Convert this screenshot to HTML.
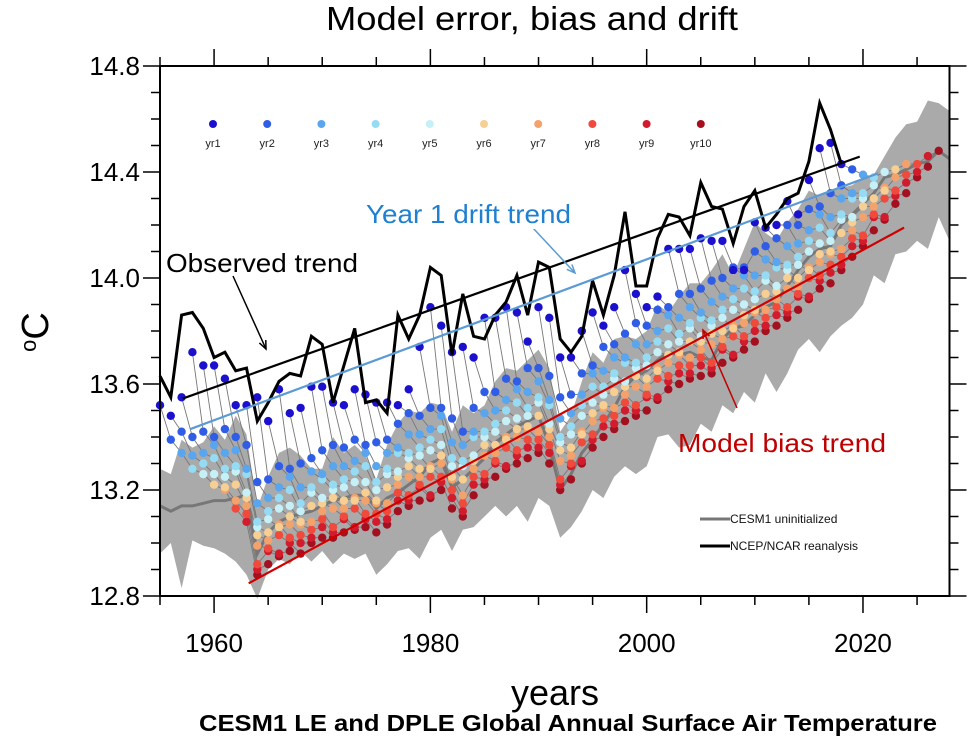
<!DOCTYPE html>
<html><head><meta charset="utf-8"><style>
html,body{margin:0;padding:0;background:#fff;}
svg{display:block;font-family:"Liberation Sans",sans-serif;}
</style></head><body>
<svg id="chart" width="971" height="746" viewBox="0 0 971 746" xmlns="http://www.w3.org/2000/svg">
<text x="532" y="30" font-size="33" text-anchor="middle" textLength="412" lengthAdjust="spacingAndGlyphs" fill="#000">Model error, bias and drift</text>
<g id="plot"></g>
<text x="555" y="705" font-size="36" text-anchor="middle" fill="#000">years</text>
<text transform="translate(48,332) rotate(-90)" font-size="38" text-anchor="middle" fill="#000"><tspan font-size="22" dy="-12">o</tspan><tspan dy="12">C</tspan></text>
<text x="568" y="731" font-size="23" font-weight="bold" text-anchor="middle" textLength="738" lengthAdjust="spacingAndGlyphs" fill="#000">CESM1 LE and DPLE Global Annual Surface Air Temperature</text>
</svg>
<script>
// ---- data ----
const obsStart = 1955;
const observed = [13.63,13.55,13.86,13.87,13.81,13.70,13.72,13.65,13.66,13.46,13.53,13.61,13.64,13.63,13.78,13.75,13.53,13.67,13.81,13.53,13.54,13.49,13.86,13.77,13.86,14.04,14.01,13.71,13.94,13.78,13.77,13.86,13.91,14.01,13.86,14.06,14.04,13.77,13.72,13.78,13.99,13.86,14.01,14.25,13.97,13.97,14.15,14.24,14.23,14.16,14.36,14.27,14.26,14.13,14.27,14.33,14.19,14.24,14.30,14.32,14.44,14.66,14.56,14.43];
const modelStart = 1955;
const cesm = [13.14,13.12,13.14,13.14,13.15,13.16,13.16,13.17,13.18,12.96,13.04,13.08,13.10,13.11,13.12,13.14,13.16,13.17,13.18,13.18,13.13,13.17,13.19,13.22,13.25,13.30,13.32,13.21,13.24,13.28,13.32,13.38,13.41,13.44,13.46,13.48,13.37,13.20,13.26,13.34,13.39,13.45,13.51,13.59,13.63,13.65,13.69,13.72,13.71,13.72,13.70,13.69,13.77,13.81,13.82,13.86,13.89,13.91,13.97,14.03,14.08,14.11,14.12,14.20,14.24,14.28,14.32,14.38,14.39,14.41,14.43,14.44,14.48,14.45];
const bandUpper = [13.28,13.26,13.39,13.36,13.38,13.44,13.39,13.48,13.41,13.13,13.25,13.34,13.36,13.33,13.28,13.28,13.40,13.34,13.37,13.33,13.24,13.37,13.45,13.50,13.49,13.53,13.52,13.42,13.52,13.49,13.52,13.61,13.66,13.65,13.69,13.73,13.66,13.42,13.48,13.61,13.72,13.68,13.77,13.78,13.77,13.80,13.90,13.87,13.93,13.98,13.98,14.03,14.09,14.01,14.11,14.21,14.17,14.14,14.21,14.26,14.33,14.31,14.33,14.34,14.35,14.38,14.39,14.46,14.53,14.58,14.59,14.67,14.66,14.63];
const bandLower = [12.96,13.00,12.83,13.01,12.99,12.98,12.96,12.93,12.88,12.79,12.90,12.94,12.92,12.97,12.93,12.97,12.92,12.96,12.94,12.96,12.88,12.92,12.97,12.98,12.94,13.02,13.05,12.97,13.05,13.06,13.10,13.14,13.10,13.14,13.08,13.17,13.14,13.02,13.06,13.12,13.20,13.17,13.25,13.29,13.26,13.29,13.40,13.41,13.36,13.37,13.45,13.42,13.52,13.49,13.57,13.53,13.64,13.57,13.64,13.73,13.77,13.72,13.78,13.82,13.85,13.90,14.01,13.98,14.09,14.10,14.14,14.11,14.23,14.14];
// hindcasts: index = start number (yr1 target year = 1955 + index); lead k target = 1955 + index + k - 1
const hindStart = 1955;
const yr1 = [13.52,13.48,13.55,13.72,13.67,13.67,13.62,13.52,13.52,13.55,13.46,13.58,13.49,13.51,13.59,13.59,13.53,13.52,13.58,13.56,13.53,13.53,13.52,13.58,13.74,13.89,13.82,13.72,13.74,13.70,13.85,13.85,13.89,13.87,13.76,13.89,13.85,13.70,13.70,13.80,13.87,13.82,13.89,14.03,13.94,13.89,13.93,14.11,14.11,14.11,14.15,14.14,14.14,14.03,14.03,14.21,14.19,14.20,14.29,14.24,14.37,14.49,14.51,14.43];
const yr2 = [13.39,13.42,13.40,13.42,13.40,13.43,13.40,13.37,13.23,13.24,13.29,13.28,13.30,13.32,13.35,13.37,13.36,13.39,13.37,13.38,13.39,13.45,13.49,13.48,13.51,13.51,13.47,13.42,13.51,13.57,13.57,13.62,13.61,13.66,13.66,13.63,13.55,13.56,13.64,13.67,13.74,13.75,13.79,13.83,13.82,13.88,13.89,13.94,13.94,13.96,13.99,14.00,14.04,14.04,14.10,14.12,14.15,14.20,14.20,14.26,14.27,14.32,14.35,14.41];
const yr3 = [13.34,13.33,13.34,13.37,13.34,13.35,13.28,13.15,13.17,13.21,13.25,13.21,13.27,13.26,13.29,13.29,13.31,13.34,13.29,13.34,13.36,13.41,13.41,13.43,13.48,13.38,13.37,13.42,13.49,13.50,13.54,13.58,13.57,13.61,13.54,13.47,13.49,13.56,13.64,13.65,13.70,13.70,13.75,13.75,13.80,13.86,13.85,13.89,13.87,13.91,13.93,13.96,14.01,14.01,14.07,14.06,14.12,14.13,14.18,14.24,14.23,14.30,14.32,14.39];
const yr4 = [13.28,13.30,13.32,13.28,13.29,13.26,13.08,13.12,13.17,13.20,13.15,13.21,13.24,13.22,13.24,13.27,13.29,13.23,13.28,13.34,13.34,13.36,13.39,13.43,13.32,13.31,13.40,13.42,13.45,13.50,13.53,13.51,13.55,13.52,13.40,13.44,13.52,13.59,13.59,13.64,13.68,13.68,13.70,13.76,13.81,13.79,13.83,13.85,13.84,13.88,13.92,13.96,13.95,14.01,14.04,14.05,14.08,14.14,14.19,14.17,14.24,14.30,14.32,14.38];
const yr5 = [13.26,13.26,13.25,13.27,13.19,13.06,13.09,13.13,13.14,13.12,13.19,13.17,13.20,13.21,13.23,13.23,13.20,13.26,13.27,13.32,13.33,13.35,13.37,13.29,13.29,13.33,13.40,13.42,13.46,13.47,13.48,13.53,13.45,13.38,13.41,13.48,13.53,13.56,13.62,13.61,13.66,13.67,13.72,13.75,13.76,13.81,13.78,13.82,13.85,13.88,13.90,13.92,13.99,13.97,14.03,14.05,14.10,14.13,14.14,14.22,14.23,14.30,14.35,14.40];
const yr6 = [13.22,13.21,13.22,13.17,13.03,13.04,13.06,13.10,13.08,13.14,13.15,13.17,13.16,13.16,13.19,13.16,13.21,13.25,13.29,13.28,13.28,13.33,13.25,13.24,13.31,13.37,13.37,13.39,13.43,13.44,13.48,13.43,13.35,13.36,13.41,13.49,13.52,13.57,13.59,13.63,13.62,13.65,13.71,13.72,13.76,13.76,13.79,13.80,13.81,13.86,13.88,13.94,13.95,14.00,14.00,14.03,14.09,14.10,14.17,14.21,14.27,14.30,14.33,14.41];
const yr7 = [13.20,13.16,13.14,12.99,13.01,13.07,13.07,13.07,13.08,13.12,13.13,13.13,13.17,13.16,13.15,13.15,13.22,13.25,13.25,13.29,13.30,13.24,13.18,13.28,13.33,13.34,13.40,13.40,13.43,13.42,13.40,13.31,13.33,13.42,13.46,13.51,13.51,13.56,13.59,13.59,13.66,13.68,13.71,13.70,13.73,13.75,13.77,13.82,13.83,13.87,13.88,13.92,13.96,13.97,14.04,14.06,14.09,14.11,14.18,14.23,14.27,14.34,14.38,14.43];
const yr8 = [13.13,13.11,12.92,12.98,13.03,13.02,13.03,13.05,13.09,13.06,13.10,13.13,13.11,13.11,13.12,13.19,13.18,13.22,13.25,13.25,13.20,13.15,13.25,13.26,13.31,13.36,13.35,13.39,13.39,13.37,13.24,13.30,13.38,13.41,13.47,13.48,13.53,13.52,13.56,13.62,13.63,13.67,13.67,13.70,13.68,13.74,13.78,13.78,13.83,13.85,13.89,13.89,13.94,14.00,14.01,14.05,14.08,14.15,14.16,14.24,14.30,14.33,14.39,14.43];
const yr9 = [13.08,12.90,12.97,12.96,13.00,13.00,13.02,13.06,13.04,13.09,13.06,13.09,13.08,13.09,13.16,13.16,13.21,13.18,13.23,13.17,13.12,13.22,13.24,13.30,13.29,13.33,13.36,13.36,13.34,13.22,13.29,13.31,13.39,13.44,13.45,13.50,13.50,13.55,13.55,13.61,13.64,13.64,13.67,13.66,13.73,13.71,13.76,13.80,13.82,13.86,13.87,13.93,13.93,13.99,14.02,14.05,14.12,14.14,14.23,14.23,14.31,14.36,14.40,14.46];
const yr10 = [12.88,12.92,12.95,12.97,12.96,13.00,13.02,13.02,13.04,13.05,13.06,13.04,13.07,13.12,13.14,13.16,13.17,13.20,13.13,13.10,13.18,13.22,13.25,13.28,13.30,13.32,13.34,13.30,13.20,13.24,13.30,13.36,13.40,13.43,13.46,13.48,13.50,13.54,13.58,13.60,13.62,13.63,13.64,13.68,13.70,13.73,13.76,13.80,13.82,13.85,13.88,13.92,13.96,13.98,14.03,14.08,14.12,14.18,14.22,14.28,14.32,14.38,14.42,14.48];
const leadNames = ["yr1","yr2","yr3","yr4","yr5","yr6","yr7","yr8","yr9","yr10"];
const leadColors = ["#1c10cf","#2f5de6","#5aa6ee","#95dbf4","#c6f0f7","#f7cf92","#f3a26c","#ef4a3c","#d21c2e","#a3101f"];
// trend lines [year, value]
const obsTrend = [[1957.1,13.545],[2019.7,14.458]];
const driftTrend = [[1957.8,13.43],[2021.4,14.395]];
const biasTrend = [[1963.2,12.848],[2023.8,14.19]];
const yTicks = [12.8,13.2,13.6,14.0,14.4,14.8];
const yTickLabels = ["12.8","13.2","13.6","14.0","14.4","14.8"];
const xTicks = [1960,1980,2000,2020];
const xTickLabels = ["1960","1980","2000","2020"];

// ---- axes ----
const L=160,R=949.5,T=66,B=596, X0=1955, X1=2028, Y0=12.8, Y1=14.8;
const xs = t => L + (t - X0) * (R - L) / (X1 - X0);
const ys = v => B - (v - Y0) * (B - T) / (Y1 - Y0);
const NS="http://www.w3.org/2000/svg";
const plot=document.getElementById('plot');
function mk(tag, attrs, parent){const e=document.createElementNS(NS,tag);for(const k in attrs)e.setAttribute(k,attrs[k]);(parent||plot).appendChild(e);return e;}

const leads=[yr1,yr2,yr3,yr4,yr5,yr6,yr7,yr8,yr9,yr10];

// band
let pts=[];
bandUpper.forEach((v,i)=>pts.push(xs(modelStart+i).toFixed(1)+','+ys(v).toFixed(1)));
for(let i=bandLower.length-1;i>=0;i--)pts.push(xs(modelStart+i).toFixed(1)+','+ys(bandLower[i]).toFixed(1));
const band=mk('polygon',{points:pts.join(' '),fill:'#aaaaaa'});



// hindcast connector lines
const conn=mk('g',{stroke:'#777',"stroke-width":'0.9',fill:'none'});


for(let s=0;s<yr1.length;s++){
  const p=leads.map((arr,k)=>xs(hindStart+s+k).toFixed(1)+','+ys(arr[s]).toFixed(1));
  const pl=mk('polyline',{points:p.join(' ')},conn);
  
  
}

// cesm line
const cl=mk('polyline',{points:cesm.map((v,i)=>xs(modelStart+i).toFixed(1)+','+ys(v).toFixed(1)).join(' '),fill:'none',stroke:'#777','stroke-width':'3'});



// dots
for(let s=0;s<yr1.length;s++){
  for(let k=9;k>=0;k--){
    const c=mk('circle',{cx:xs(hindStart+s+k).toFixed(1),cy:ys(leads[k][s]).toFixed(1),r:'4.2',fill:leadColors[k]});
    
    
  }
}

// observed
const ol=mk('polyline',{points:observed.map((v,i)=>xs(obsStart+i).toFixed(1)+','+ys(v).toFixed(1)).join(' '),fill:'none',stroke:'#000','stroke-width':'3','stroke-linejoin':'miter'});



// trends
function trend(tr,col,name){const l=mk('line',{x1:xs(tr[0][0]),y1:ys(tr[0][1]),x2:xs(tr[1][0]),y2:ys(tr[1][1]),stroke:col,'stroke-width':'2.2'});}
trend(obsTrend,'#000','observed-trend-line');
trend(driftTrend,'#5b9bd5','year1-drift-trend-line');
trend(biasTrend,'#d00000','model-bias-trend-line');

// arrows
function arrow(x1,y1,x2,y2,col,name){
  const g=mk('g',{});
  
  
  mk('line',{x1,y1,x2,y2,stroke:col,'stroke-width':'1.5'},g);
  const a=Math.atan2(y2-y1,x2-x1),h=9;
  const p1=[x2-h*Math.cos(a-0.4),y2-h*Math.sin(a-0.4)],p2=[x2-h*Math.cos(a+0.4),y2-h*Math.sin(a+0.4)];
  mk('polyline',{points:`${p1} ${x2},${y2} ${p2}`,fill:'none',stroke:col,'stroke-width':'1.5'},g);
}
arrow(233,276,266,349,'#000','observed-trend-arrow');
arrow(533,228,575,273,'#5b9bd5','drift-trend-arrow');
arrow(737,408,703,330,'#c00000','bias-trend-arrow');

// annotations
function txt(x,y,s,attrs,name){const t=mk('text',Object.assign({x,y},attrs));t.textContent=s;return t;}
mk('rect',{x:363,y:201,width:210,height:28,fill:'#fff'});
txt(166,272,'Observed trend',{'font-size':'26',fill:'#000',textLength:'192',lengthAdjust:'spacingAndGlyphs'},'observed-trend-label');
txt(366,223,'Year 1 drift trend',{'font-size':'26',fill:'#1f7fd0',textLength:'205',lengthAdjust:'spacingAndGlyphs'},'drift-trend-label');
txt(678,452,'Model bias trend',{'font-size':'26',fill:'#c00000',textLength:'208',lengthAdjust:'spacingAndGlyphs'},'bias-trend-label');

// legend top
leadNames.forEach((n,k)=>{
  const lx=213+k*54.2;
  const c=mk('circle',{cx:lx,cy:124,r:'4',fill:leadColors[k]});
  
  
  txt(lx,147,n,{'font-size':'11','text-anchor':'middle',fill:'#222'},'legend-label-'+n);
});
// legend lines
const lg1=mk('line',{x1:700,y1:519,x2:730,y2:519,stroke:'#777','stroke-width':'3'});

txt(730,523,'CESM1 uninitialized',{'font-size':'12',fill:'#111'},'legend-cesm-label');
const lg2=mk('line',{x1:700,y1:546,x2:730,y2:546,stroke:'#000','stroke-width':'3'});

txt(730,550,'NCEP/NCAR reanalysis',{'font-size':'12',fill:'#111'},'legend-ncep-label');

// frame & ticks
const fr=mk('rect',{x:L,y:T,width:R-L,height:B-T,fill:'none',stroke:'#000','stroke-width':'2'});

const tk=mk('g',{stroke:'#000','stroke-width':'1.5'});

for(let i=0;i<=20;i++){const v=Y0+i*0.1,y=ys(v),len=(i%4===0)?17:9;
  mk('line',{x1:L-len,y1:y,x2:L,y2:y},tk);mk('line',{x1:R,y1:y,x2:R+len,y2:y},tk);}
for(let t=1955;t<=2025;t+=5){const x=xs(t),len=(t%20===0)?17:9;
  mk('line',{x1:x,y1:B,x2:x,y2:B+len},tk);mk('line',{x1:x,y1:T,x2:x,y2:T-len},tk);}
yTicks.forEach((v,i)=>txt(140,ys(v)+9,yTickLabels[i],{'font-size':'26','text-anchor':'end',fill:'#000'},'y-tick-label'));
xTicks.forEach((t,i)=>txt(xs(t),652,xTickLabels[i],{'font-size':'26','text-anchor':'middle',fill:'#000'},'x-tick-label'));
</script>
</body></html>
